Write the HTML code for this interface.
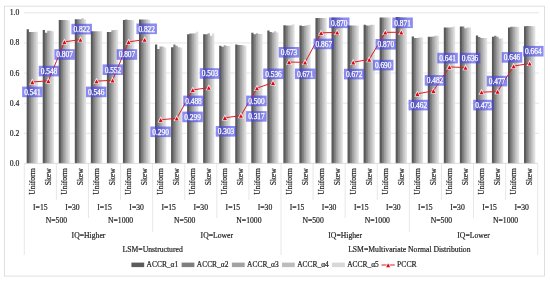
<!DOCTYPE html>
<html lang="en"><head><meta charset="utf-8"><title>ACCR and PCCR chart</title>
<style>html,body{margin:0;padding:0;background:#fff}body{width:550px;height:282px;overflow:hidden}svg{display:block}text{font-family:"Liberation Serif","DejaVu Serif",serif;font-size:7.68px;fill:#222}.dl{fill:#fff;font-size:7.35px;stroke:#fff;stroke-width:0.25px}.ax{fill:#222;stroke:#222;stroke-width:0.18px}</style></head><body>
<svg width="550" height="282" viewBox="0 0 550 282">
<rect x="0" y="0" width="550" height="282" fill="#fff"/>
<rect x="4.5" y="6.2" width="540" height="269.9" fill="#fff" stroke="#dcdcdc" stroke-width="0.9"/>
<line x1="23.9" y1="133.28" x2="539.0" y2="133.28" stroke="#e0e0e0" stroke-width="0.8"/>
<line x1="23.9" y1="103.16" x2="539.0" y2="103.16" stroke="#e0e0e0" stroke-width="0.8"/>
<line x1="23.9" y1="73.04" x2="539.0" y2="73.04" stroke="#e0e0e0" stroke-width="0.8"/>
<line x1="23.9" y1="42.92" x2="539.0" y2="42.92" stroke="#e0e0e0" stroke-width="0.8"/>
<line x1="23.9" y1="12.80" x2="539.0" y2="12.80" stroke="#e0e0e0" stroke-width="0.8"/>
<text class="ax" x="19.3" y="165.90" text-anchor="end">0.0</text>
<text class="ax" x="19.3" y="135.78" text-anchor="end">0.2</text>
<text class="ax" x="19.3" y="105.66" text-anchor="end">0.4</text>
<text class="ax" x="19.3" y="75.54" text-anchor="end">0.6</text>
<text class="ax" x="19.3" y="45.42" text-anchor="end">0.8</text>
<text class="ax" x="19.3" y="15.30" text-anchor="end">1.0</text>
<defs><linearGradient id="bg" x1="0" y1="0" x2="1" y2="0"><stop offset="0" stop-color="#535353"/><stop offset="0.17" stop-color="#616161"/><stop offset="0.23" stop-color="#7a7a7a"/><stop offset="0.37" stop-color="#888888"/><stop offset="0.43" stop-color="#9e9e9e"/><stop offset="0.57" stop-color="#ababab"/><stop offset="0.63" stop-color="#bcbcbc"/><stop offset="0.77" stop-color="#c9c9c9"/><stop offset="0.83" stop-color="#d6d6d6"/><stop offset="1" stop-color="#e5e5e5"/></linearGradient></defs>
<path d="M26.67 163.40 L26.67 29.37 L28.93 29.37 L28.93 31.93 L31.19 31.93 L31.19 31.93 L33.45 31.93 L33.45 31.93 L35.71 31.93 L35.71 31.78 L37.97 31.78 L37.97 163.40 Z" fill="url(#bg)"/>
<path d="M42.72 163.40 L42.72 29.97 L44.98 29.97 L44.98 32.68 L47.24 32.68 L47.24 30.87 L49.50 30.87 L49.50 30.87 L51.76 30.87 L51.76 31.17 L54.01 31.17 L54.01 163.40 Z" fill="url(#bg)"/>
<path d="M58.76 163.40 L58.76 19.88 L61.02 19.88 L61.02 19.88 L63.28 19.88 L63.28 19.88 L65.54 19.88 L65.54 20.03 L67.80 20.03 L67.80 20.48 L70.06 20.48 L70.06 163.40 Z" fill="url(#bg)"/>
<path d="M74.80 163.40 L74.80 19.28 L77.06 19.28 L77.06 19.28 L79.32 19.28 L79.32 19.13 L81.58 19.13 L81.58 18.37 L83.84 18.37 L83.84 19.58 L86.10 19.58 L86.10 163.40 Z" fill="url(#bg)"/>
<path d="M90.85 163.40 L90.85 31.32 L93.11 31.32 L93.11 31.32 L95.37 31.32 L95.37 31.32 L97.63 31.32 L97.63 31.17 L99.89 31.17 L99.89 31.17 L102.15 31.17 L102.15 163.40 Z" fill="url(#bg)"/>
<path d="M106.89 163.40 L106.89 31.93 L109.15 31.93 L109.15 31.93 L111.41 31.93 L111.41 30.27 L113.67 30.27 L113.67 29.97 L115.93 29.97 L115.93 29.67 L118.19 29.67 L118.19 163.40 Z" fill="url(#bg)"/>
<path d="M122.94 163.40 L122.94 19.88 L125.19 19.88 L125.19 19.43 L127.45 19.43 L127.45 19.88 L129.71 19.88 L129.71 19.88 L131.97 19.88 L131.97 20.18 L134.23 20.18 L134.23 163.40 Z" fill="url(#bg)"/>
<path d="M138.98 163.40 L138.98 19.43 L141.24 19.43 L141.24 19.43 L143.50 19.43 L143.50 19.43 L145.76 19.43 L145.76 19.43 L148.02 19.43 L148.02 19.73 L150.28 19.73 L150.28 163.40 Z" fill="url(#bg)"/>
<path d="M155.02 163.40 L155.02 44.58 L157.28 44.58 L157.28 48.94 L159.54 48.94 L159.54 46.53 L161.80 46.53 L161.80 46.53 L164.06 46.53 L164.06 47.44 L166.32 47.44 L166.32 163.40 Z" fill="url(#bg)"/>
<path d="M171.07 163.40 L171.07 47.14 L173.33 47.14 L173.33 44.58 L175.59 44.58 L175.59 45.63 L177.85 45.63 L177.85 47.29 L180.11 47.29 L180.11 47.44 L182.36 47.44 L182.36 163.40 Z" fill="url(#bg)"/>
<path d="M187.11 163.40 L187.11 34.34 L189.37 34.34 L189.37 33.43 L191.63 33.43 L191.63 33.43 L193.89 33.43 L193.89 33.28 L196.15 33.28 L196.15 31.78 L198.41 31.78 L198.41 163.40 Z" fill="url(#bg)"/>
<path d="M203.15 163.40 L203.15 34.34 L205.41 34.34 L205.41 34.34 L207.67 34.34 L207.67 33.13 L209.93 33.13 L209.93 35.69 L212.19 35.69 L212.19 33.58 L214.45 33.58 L214.45 163.40 Z" fill="url(#bg)"/>
<path d="M219.20 163.40 L219.20 45.63 L221.46 45.63 L221.46 46.69 L223.72 46.69 L223.72 45.18 L225.98 45.18 L225.98 46.08 L228.24 46.08 L228.24 46.08 L230.50 46.08 L230.50 163.40 Z" fill="url(#bg)"/>
<path d="M235.24 163.40 L235.24 44.43 L237.50 44.43 L237.50 44.88 L239.76 44.88 L239.76 45.03 L242.02 45.03 L242.02 45.33 L244.28 45.33 L244.28 45.63 L246.54 45.63 L246.54 163.40 Z" fill="url(#bg)"/>
<path d="M251.29 163.40 L251.29 32.68 L253.54 32.68 L253.54 34.19 L255.80 34.19 L255.80 33.13 L258.06 33.13 L258.06 34.03 L260.32 34.03 L260.32 34.03 L262.58 34.03 L262.58 163.40 Z" fill="url(#bg)"/>
<path d="M267.33 163.40 L267.33 30.57 L269.59 30.57 L269.59 32.08 L271.85 32.08 L271.85 32.38 L274.11 32.38 L274.11 31.17 L276.37 31.17 L276.37 32.38 L278.63 32.38 L278.63 163.40 Z" fill="url(#bg)"/>
<path d="M283.37 163.40 L283.37 25.30 L285.63 25.30 L285.63 25.60 L287.89 25.60 L287.89 25.60 L290.15 25.60 L290.15 25.15 L292.41 25.15 L292.41 24.25 L294.67 24.25 L294.67 163.40 Z" fill="url(#bg)"/>
<path d="M299.42 163.40 L299.42 25.60 L301.68 25.60 L301.68 25.90 L303.94 25.90 L303.94 25.75 L306.20 25.75 L306.20 25.15 L308.46 25.15 L308.46 24.70 L310.71 24.70 L310.71 163.40 Z" fill="url(#bg)"/>
<path d="M315.46 163.40 L315.46 17.92 L317.72 17.92 L317.72 17.92 L319.98 17.92 L319.98 17.92 L322.24 17.92 L322.24 17.92 L324.50 17.92 L324.50 18.07 L326.76 18.07 L326.76 163.40 Z" fill="url(#bg)"/>
<path d="M331.50 163.40 L331.50 17.62 L333.76 17.62 L333.76 17.62 L336.02 17.62 L336.02 17.62 L338.28 17.62 L338.28 17.62 L340.54 17.62 L340.54 17.77 L342.80 17.77 L342.80 163.40 Z" fill="url(#bg)"/>
<path d="M347.55 163.40 L347.55 25.60 L349.81 25.60 L349.81 25.60 L352.07 25.60 L352.07 25.60 L354.33 25.60 L354.33 25.60 L356.59 25.60 L356.59 25.75 L358.85 25.75 L358.85 163.40 Z" fill="url(#bg)"/>
<path d="M363.59 163.40 L363.59 24.70 L365.85 24.70 L365.85 25.60 L368.11 25.60 L368.11 25.60 L370.37 25.60 L370.37 24.70 L372.63 24.70 L372.63 24.70 L374.89 24.70 L374.89 163.40 Z" fill="url(#bg)"/>
<path d="M379.64 163.40 L379.64 17.47 L381.89 17.47 L381.89 17.47 L384.15 17.47 L384.15 17.47 L386.41 17.47 L386.41 17.47 L388.67 17.47 L388.67 17.62 L390.93 17.62 L390.93 163.40 Z" fill="url(#bg)"/>
<path d="M395.68 163.40 L395.68 17.02 L397.94 17.02 L397.94 17.02 L400.20 17.02 L400.20 17.17 L402.46 17.17 L402.46 17.17 L404.72 17.17 L404.72 17.32 L406.98 17.32 L406.98 163.40 Z" fill="url(#bg)"/>
<path d="M411.72 163.40 L411.72 36.44 L413.98 36.44 L413.98 37.95 L416.24 37.95 L416.24 37.95 L418.50 37.95 L418.50 37.50 L420.76 37.50 L420.76 37.50 L423.02 37.50 L423.02 163.40 Z" fill="url(#bg)"/>
<path d="M427.77 163.40 L427.77 36.75 L430.03 36.75 L430.03 36.75 L432.29 36.75 L432.29 36.44 L434.55 36.44 L434.55 35.84 L436.81 35.84 L436.81 35.84 L439.06 35.84 L439.06 163.40 Z" fill="url(#bg)"/>
<path d="M443.81 163.40 L443.81 27.56 L446.07 27.56 L446.07 27.56 L448.33 27.56 L448.33 27.56 L450.59 27.56 L450.59 27.26 L452.85 27.26 L452.85 26.50 L455.11 26.50 L455.11 163.40 Z" fill="url(#bg)"/>
<path d="M459.85 163.40 L459.85 26.50 L462.11 26.50 L462.11 26.50 L464.37 26.50 L464.37 28.16 L466.63 28.16 L466.63 27.56 L468.89 27.56 L468.89 27.56 L471.15 27.56 L471.15 163.40 Z" fill="url(#bg)"/>
<path d="M475.90 163.40 L475.90 35.39 L478.16 35.39 L478.16 37.05 L480.42 37.05 L480.42 37.95 L482.68 37.95 L482.68 37.95 L484.94 37.95 L484.94 37.95 L487.20 37.95 L487.20 163.40 Z" fill="url(#bg)"/>
<path d="M491.94 163.40 L491.94 36.75 L494.20 36.75 L494.20 35.84 L496.46 35.84 L496.46 36.75 L498.72 36.75 L498.72 38.40 L500.98 38.40 L500.98 38.40 L503.24 38.40 L503.24 163.40 Z" fill="url(#bg)"/>
<path d="M507.99 163.40 L507.99 27.56 L510.24 27.56 L510.24 26.81 L512.50 26.81 L512.50 26.81 L514.76 26.81 L514.76 26.81 L517.02 26.81 L517.02 26.96 L519.28 26.96 L519.28 163.40 Z" fill="url(#bg)"/>
<path d="M524.03 163.40 L524.03 26.20 L526.29 26.20 L526.29 26.05 L528.55 26.05 L528.55 25.90 L530.81 25.90 L530.81 26.20 L533.07 26.20 L533.07 26.35 L535.33 26.35 L535.33 163.40 Z" fill="url(#bg)"/>
<line x1="24.3" y1="163.40" x2="537.7" y2="163.40" stroke="#d4d4d4" stroke-width="0.8"/>
<line x1="24.30" y1="163.40" x2="24.30" y2="255.00" stroke="#dddddd" stroke-width="0.7"/>
<line x1="56.39" y1="163.40" x2="56.39" y2="200.00" stroke="#dddddd" stroke-width="0.7"/>
<line x1="88.48" y1="163.40" x2="88.48" y2="218.00" stroke="#dddddd" stroke-width="0.7"/>
<line x1="120.56" y1="163.40" x2="120.56" y2="200.00" stroke="#dddddd" stroke-width="0.7"/>
<line x1="152.65" y1="163.40" x2="152.65" y2="232.00" stroke="#dddddd" stroke-width="0.7"/>
<line x1="184.74" y1="163.40" x2="184.74" y2="200.00" stroke="#dddddd" stroke-width="0.7"/>
<line x1="216.83" y1="163.40" x2="216.83" y2="218.00" stroke="#dddddd" stroke-width="0.7"/>
<line x1="248.91" y1="163.40" x2="248.91" y2="200.00" stroke="#dddddd" stroke-width="0.7"/>
<line x1="281.00" y1="163.40" x2="281.00" y2="255.00" stroke="#dddddd" stroke-width="0.7"/>
<line x1="313.09" y1="163.40" x2="313.09" y2="200.00" stroke="#dddddd" stroke-width="0.7"/>
<line x1="345.18" y1="163.40" x2="345.18" y2="218.00" stroke="#dddddd" stroke-width="0.7"/>
<line x1="377.26" y1="163.40" x2="377.26" y2="200.00" stroke="#dddddd" stroke-width="0.7"/>
<line x1="409.35" y1="163.40" x2="409.35" y2="232.00" stroke="#dddddd" stroke-width="0.7"/>
<line x1="441.44" y1="163.40" x2="441.44" y2="200.00" stroke="#dddddd" stroke-width="0.7"/>
<line x1="473.53" y1="163.40" x2="473.53" y2="218.00" stroke="#dddddd" stroke-width="0.7"/>
<line x1="505.61" y1="163.40" x2="505.61" y2="200.00" stroke="#dddddd" stroke-width="0.7"/>
<line x1="537.70" y1="163.40" x2="537.70" y2="255.00" stroke="#dddddd" stroke-width="0.7"/>
<text class="ax" transform="translate(34.92,168.3) rotate(-90)" text-anchor="end">Uniform</text>
<text class="ax" transform="translate(50.97,168.3) rotate(-90)" text-anchor="end">Skew</text>
<text class="ax" transform="translate(67.01,168.3) rotate(-90)" text-anchor="end">Uniform</text>
<text class="ax" transform="translate(83.05,168.3) rotate(-90)" text-anchor="end">Skew</text>
<text class="ax" transform="translate(99.10,168.3) rotate(-90)" text-anchor="end">Uniform</text>
<text class="ax" transform="translate(115.14,168.3) rotate(-90)" text-anchor="end">Skew</text>
<text class="ax" transform="translate(131.18,168.3) rotate(-90)" text-anchor="end">Uniform</text>
<text class="ax" transform="translate(147.23,168.3) rotate(-90)" text-anchor="end">Skew</text>
<text class="ax" transform="translate(163.27,168.3) rotate(-90)" text-anchor="end">Uniform</text>
<text class="ax" transform="translate(179.32,168.3) rotate(-90)" text-anchor="end">Skew</text>
<text class="ax" transform="translate(195.36,168.3) rotate(-90)" text-anchor="end">Uniform</text>
<text class="ax" transform="translate(211.40,168.3) rotate(-90)" text-anchor="end">Skew</text>
<text class="ax" transform="translate(227.45,168.3) rotate(-90)" text-anchor="end">Uniform</text>
<text class="ax" transform="translate(243.49,168.3) rotate(-90)" text-anchor="end">Skew</text>
<text class="ax" transform="translate(259.53,168.3) rotate(-90)" text-anchor="end">Uniform</text>
<text class="ax" transform="translate(275.58,168.3) rotate(-90)" text-anchor="end">Skew</text>
<text class="ax" transform="translate(291.62,168.3) rotate(-90)" text-anchor="end">Uniform</text>
<text class="ax" transform="translate(307.67,168.3) rotate(-90)" text-anchor="end">Skew</text>
<text class="ax" transform="translate(323.71,168.3) rotate(-90)" text-anchor="end">Uniform</text>
<text class="ax" transform="translate(339.75,168.3) rotate(-90)" text-anchor="end">Skew</text>
<text class="ax" transform="translate(355.80,168.3) rotate(-90)" text-anchor="end">Uniform</text>
<text class="ax" transform="translate(371.84,168.3) rotate(-90)" text-anchor="end">Skew</text>
<text class="ax" transform="translate(387.88,168.3) rotate(-90)" text-anchor="end">Uniform</text>
<text class="ax" transform="translate(403.93,168.3) rotate(-90)" text-anchor="end">Skew</text>
<text class="ax" transform="translate(419.97,168.3) rotate(-90)" text-anchor="end">Uniform</text>
<text class="ax" transform="translate(436.02,168.3) rotate(-90)" text-anchor="end">Skew</text>
<text class="ax" transform="translate(452.06,168.3) rotate(-90)" text-anchor="end">Uniform</text>
<text class="ax" transform="translate(468.10,168.3) rotate(-90)" text-anchor="end">Skew</text>
<text class="ax" transform="translate(484.15,168.3) rotate(-90)" text-anchor="end">Uniform</text>
<text class="ax" transform="translate(500.19,168.3) rotate(-90)" text-anchor="end">Skew</text>
<text class="ax" transform="translate(516.23,168.3) rotate(-90)" text-anchor="end">Uniform</text>
<text class="ax" transform="translate(532.28,168.3) rotate(-90)" text-anchor="end">Skew</text>
<text class="ax" x="40.34" y="209.5" text-anchor="middle">I=15</text>
<text class="ax" x="72.43" y="209.5" text-anchor="middle">I=30</text>
<text class="ax" x="104.52" y="209.5" text-anchor="middle">I=15</text>
<text class="ax" x="136.61" y="209.5" text-anchor="middle">I=30</text>
<text class="ax" x="168.69" y="209.5" text-anchor="middle">I=15</text>
<text class="ax" x="200.78" y="209.5" text-anchor="middle">I=30</text>
<text class="ax" x="232.87" y="209.5" text-anchor="middle">I=15</text>
<text class="ax" x="264.96" y="209.5" text-anchor="middle">I=30</text>
<text class="ax" x="297.04" y="209.5" text-anchor="middle">I=15</text>
<text class="ax" x="329.13" y="209.5" text-anchor="middle">I=30</text>
<text class="ax" x="361.22" y="209.5" text-anchor="middle">I=15</text>
<text class="ax" x="393.31" y="209.5" text-anchor="middle">I=30</text>
<text class="ax" x="425.39" y="209.5" text-anchor="middle">I=15</text>
<text class="ax" x="457.48" y="209.5" text-anchor="middle">I=30</text>
<text class="ax" x="489.57" y="209.5" text-anchor="middle">I=15</text>
<text class="ax" x="521.66" y="209.5" text-anchor="middle">I=30</text>
<text class="ax" x="56.39" y="223.4" text-anchor="middle">N=500</text>
<text class="ax" x="120.56" y="223.4" text-anchor="middle">N=1000</text>
<text class="ax" x="184.74" y="223.4" text-anchor="middle">N=500</text>
<text class="ax" x="248.91" y="223.4" text-anchor="middle">N=1000</text>
<text class="ax" x="313.09" y="223.4" text-anchor="middle">N=500</text>
<text class="ax" x="377.26" y="223.4" text-anchor="middle">N=1000</text>
<text class="ax" x="441.44" y="223.4" text-anchor="middle">N=500</text>
<text class="ax" x="505.61" y="223.4" text-anchor="middle">N=1000</text>
<text class="ax" x="88.48" y="237.6" text-anchor="middle">IQ=Higher</text>
<text class="ax" x="216.83" y="237.6" text-anchor="middle">IQ=Lower</text>
<text class="ax" x="345.18" y="237.6" text-anchor="middle">IQ=Higher</text>
<text class="ax" x="473.53" y="237.6" text-anchor="middle">IQ=Lower</text>
<text class="ax" x="152.65" y="251.6" text-anchor="middle">LSM=Unstructured</text>
<text class="ax" x="409.35" y="251.6" text-anchor="middle">LSM=Multivariate Normal Distribution</text>
<polyline points="32.32,81.93 48.37,80.87 64.41,41.87 80.45,39.61" fill="none" stroke="#e31a22" stroke-width="1"/>
<polyline points="96.50,81.17 112.54,80.27 128.58,41.87 144.63,39.61" fill="none" stroke="#e31a22" stroke-width="1"/>
<polyline points="160.67,119.73 176.72,118.37 192.76,89.91 208.80,87.65" fill="none" stroke="#e31a22" stroke-width="1"/>
<polyline points="224.85,117.77 240.89,115.66 256.93,88.10 272.98,82.68" fill="none" stroke="#e31a22" stroke-width="1"/>
<polyline points="289.02,62.05 305.07,62.35 321.11,32.83 337.15,32.38" fill="none" stroke="#e31a22" stroke-width="1"/>
<polyline points="353.20,62.20 369.24,59.49 385.28,32.38 401.33,32.23" fill="none" stroke="#e31a22" stroke-width="1"/>
<polyline points="417.37,93.82 433.42,90.81 449.46,66.87 465.50,67.62" fill="none" stroke="#e31a22" stroke-width="1"/>
<polyline points="481.55,92.17 497.59,91.56 513.63,66.11 529.68,63.40" fill="none" stroke="#e31a22" stroke-width="1"/>
<rect x="22.15" y="86.60" width="20.5" height="10.6" fill="#4646e6" fill-opacity="0.62"/>
<rect x="38.75" y="65.80" width="20.5" height="10.6" fill="#4646e6" fill-opacity="0.62"/>
<rect x="54.35" y="49.20" width="20.5" height="10.6" fill="#4646e6" fill-opacity="0.62"/>
<rect x="71.45" y="23.80" width="20.5" height="10.6" fill="#4646e6" fill-opacity="0.62"/>
<rect x="85.95" y="86.60" width="20.5" height="10.6" fill="#4646e6" fill-opacity="0.62"/>
<rect x="102.65" y="64.40" width="20.5" height="10.6" fill="#4646e6" fill-opacity="0.62"/>
<rect x="116.65" y="49.20" width="20.5" height="10.6" fill="#4646e6" fill-opacity="0.62"/>
<rect x="136.45" y="23.50" width="20.5" height="10.6" fill="#4646e6" fill-opacity="0.62"/>
<rect x="150.35" y="126.50" width="20.5" height="10.6" fill="#4646e6" fill-opacity="0.62"/>
<rect x="182.35" y="111.60" width="20.5" height="10.6" fill="#4646e6" fill-opacity="0.62"/>
<rect x="183.25" y="95.60" width="20.5" height="10.6" fill="#4646e6" fill-opacity="0.62"/>
<rect x="199.75" y="68.20" width="20.5" height="10.6" fill="#4646e6" fill-opacity="0.62"/>
<rect x="215.75" y="126.00" width="20.5" height="10.6" fill="#4646e6" fill-opacity="0.62"/>
<rect x="246.15" y="111.10" width="20.5" height="10.6" fill="#4646e6" fill-opacity="0.62"/>
<rect x="246.15" y="95.60" width="20.5" height="10.6" fill="#4646e6" fill-opacity="0.62"/>
<rect x="263.25" y="68.50" width="20.5" height="10.6" fill="#4646e6" fill-opacity="0.62"/>
<rect x="278.75" y="47.00" width="20.5" height="10.6" fill="#4646e6" fill-opacity="0.62"/>
<rect x="294.95" y="68.50" width="20.5" height="10.6" fill="#4646e6" fill-opacity="0.62"/>
<rect x="313.55" y="38.60" width="20.5" height="10.6" fill="#4646e6" fill-opacity="0.62"/>
<rect x="328.95" y="17.50" width="20.5" height="10.6" fill="#4646e6" fill-opacity="0.62"/>
<rect x="343.95" y="68.80" width="20.5" height="10.6" fill="#4646e6" fill-opacity="0.62"/>
<rect x="372.95" y="59.80" width="20.5" height="10.6" fill="#4646e6" fill-opacity="0.62"/>
<rect x="375.55" y="39.00" width="20.5" height="10.6" fill="#4646e6" fill-opacity="0.62"/>
<rect x="392.35" y="17.50" width="20.5" height="10.6" fill="#4646e6" fill-opacity="0.62"/>
<rect x="408.55" y="99.80" width="20.5" height="10.6" fill="#4646e6" fill-opacity="0.62"/>
<rect x="424.75" y="75.10" width="20.5" height="10.6" fill="#4646e6" fill-opacity="0.62"/>
<rect x="437.35" y="52.80" width="20.5" height="10.6" fill="#4646e6" fill-opacity="0.62"/>
<rect x="459.75" y="52.80" width="20.5" height="10.6" fill="#4646e6" fill-opacity="0.62"/>
<rect x="473.15" y="99.80" width="20.5" height="10.6" fill="#4646e6" fill-opacity="0.62"/>
<rect x="486.75" y="75.80" width="20.5" height="10.6" fill="#4646e6" fill-opacity="0.62"/>
<rect x="501.75" y="52.10" width="20.5" height="10.6" fill="#4646e6" fill-opacity="0.62"/>
<rect x="523.05" y="45.90" width="20.5" height="10.6" fill="#4646e6" fill-opacity="0.62"/>
<text class="dl" x="32.40" y="94.80" text-anchor="middle">0.541</text>
<text class="dl" x="49.00" y="74.00" text-anchor="middle">0.548</text>
<text class="dl" x="64.60" y="57.40" text-anchor="middle">0.807</text>
<text class="dl" x="81.70" y="32.00" text-anchor="middle">0.822</text>
<text class="dl" x="96.20" y="94.80" text-anchor="middle">0.546</text>
<text class="dl" x="112.90" y="72.60" text-anchor="middle">0.552</text>
<text class="dl" x="126.90" y="57.40" text-anchor="middle">0.807</text>
<text class="dl" x="146.70" y="31.70" text-anchor="middle">0.822</text>
<text class="dl" x="160.60" y="134.70" text-anchor="middle">0.290</text>
<text class="dl" x="192.60" y="119.80" text-anchor="middle">0.299</text>
<text class="dl" x="193.50" y="103.80" text-anchor="middle">0.488</text>
<text class="dl" x="210.00" y="76.40" text-anchor="middle">0.503</text>
<text class="dl" x="226.00" y="134.20" text-anchor="middle">0.303</text>
<text class="dl" x="256.40" y="119.30" text-anchor="middle">0.317</text>
<text class="dl" x="256.40" y="103.80" text-anchor="middle">0.500</text>
<text class="dl" x="273.50" y="76.70" text-anchor="middle">0.536</text>
<text class="dl" x="289.00" y="55.20" text-anchor="middle">0.673</text>
<text class="dl" x="305.20" y="76.70" text-anchor="middle">0.671</text>
<text class="dl" x="323.80" y="46.80" text-anchor="middle">0.867</text>
<text class="dl" x="339.20" y="25.70" text-anchor="middle">0.870</text>
<text class="dl" x="354.20" y="77.00" text-anchor="middle">0.672</text>
<text class="dl" x="383.20" y="68.00" text-anchor="middle">0.690</text>
<text class="dl" x="385.80" y="47.20" text-anchor="middle">0.870</text>
<text class="dl" x="402.60" y="25.70" text-anchor="middle">0.871</text>
<text class="dl" x="418.80" y="108.00" text-anchor="middle">0.462</text>
<text class="dl" x="435.00" y="83.30" text-anchor="middle">0.482</text>
<text class="dl" x="447.60" y="61.00" text-anchor="middle">0.641</text>
<text class="dl" x="470.00" y="61.00" text-anchor="middle">0.636</text>
<text class="dl" x="483.40" y="108.00" text-anchor="middle">0.473</text>
<text class="dl" x="497.00" y="84.00" text-anchor="middle">0.477</text>
<text class="dl" x="512.00" y="60.30" text-anchor="middle">0.646</text>
<text class="dl" x="533.30" y="54.10" text-anchor="middle">0.664</text>
<path d="M32.32 78.53 l3.1 6.1 h-6.2 z" fill="#fff" fill-opacity="0.85"/><path d="M32.32 80.23 l2 3.9 h-4 z" fill="#e30613"/>
<path d="M48.37 77.47 l3.1 6.1 h-6.2 z" fill="#fff" fill-opacity="0.85"/><path d="M48.37 79.17 l2 3.9 h-4 z" fill="#e30613"/>
<path d="M64.41 38.47 l3.1 6.1 h-6.2 z" fill="#fff" fill-opacity="0.85"/><path d="M64.41 40.17 l2 3.9 h-4 z" fill="#e30613"/>
<path d="M80.45 36.21 l3.1 6.1 h-6.2 z" fill="#fff" fill-opacity="0.85"/><path d="M80.45 37.91 l2 3.9 h-4 z" fill="#e30613"/>
<path d="M96.50 77.77 l3.1 6.1 h-6.2 z" fill="#fff" fill-opacity="0.85"/><path d="M96.50 79.47 l2 3.9 h-4 z" fill="#e30613"/>
<path d="M112.54 76.87 l3.1 6.1 h-6.2 z" fill="#fff" fill-opacity="0.85"/><path d="M112.54 78.57 l2 3.9 h-4 z" fill="#e30613"/>
<path d="M128.58 38.47 l3.1 6.1 h-6.2 z" fill="#fff" fill-opacity="0.85"/><path d="M128.58 40.17 l2 3.9 h-4 z" fill="#e30613"/>
<path d="M144.63 36.21 l3.1 6.1 h-6.2 z" fill="#fff" fill-opacity="0.85"/><path d="M144.63 37.91 l2 3.9 h-4 z" fill="#e30613"/>
<path d="M160.67 116.33 l3.1 6.1 h-6.2 z" fill="#fff" fill-opacity="0.85"/><path d="M160.67 118.03 l2 3.9 h-4 z" fill="#e30613"/>
<path d="M176.72 114.97 l3.1 6.1 h-6.2 z" fill="#fff" fill-opacity="0.85"/><path d="M176.72 116.67 l2 3.9 h-4 z" fill="#e30613"/>
<path d="M192.76 86.51 l3.1 6.1 h-6.2 z" fill="#fff" fill-opacity="0.85"/><path d="M192.76 88.21 l2 3.9 h-4 z" fill="#e30613"/>
<path d="M208.80 84.25 l3.1 6.1 h-6.2 z" fill="#fff" fill-opacity="0.85"/><path d="M208.80 85.95 l2 3.9 h-4 z" fill="#e30613"/>
<path d="M224.85 114.37 l3.1 6.1 h-6.2 z" fill="#fff" fill-opacity="0.85"/><path d="M224.85 116.07 l2 3.9 h-4 z" fill="#e30613"/>
<path d="M240.89 112.26 l3.1 6.1 h-6.2 z" fill="#fff" fill-opacity="0.85"/><path d="M240.89 113.96 l2 3.9 h-4 z" fill="#e30613"/>
<path d="M256.93 84.70 l3.1 6.1 h-6.2 z" fill="#fff" fill-opacity="0.85"/><path d="M256.93 86.40 l2 3.9 h-4 z" fill="#e30613"/>
<path d="M272.98 79.28 l3.1 6.1 h-6.2 z" fill="#fff" fill-opacity="0.85"/><path d="M272.98 80.98 l2 3.9 h-4 z" fill="#e30613"/>
<path d="M289.02 58.65 l3.1 6.1 h-6.2 z" fill="#fff" fill-opacity="0.85"/><path d="M289.02 60.35 l2 3.9 h-4 z" fill="#e30613"/>
<path d="M305.07 58.95 l3.1 6.1 h-6.2 z" fill="#fff" fill-opacity="0.85"/><path d="M305.07 60.65 l2 3.9 h-4 z" fill="#e30613"/>
<path d="M321.11 29.43 l3.1 6.1 h-6.2 z" fill="#fff" fill-opacity="0.85"/><path d="M321.11 31.13 l2 3.9 h-4 z" fill="#e30613"/>
<path d="M337.15 28.98 l3.1 6.1 h-6.2 z" fill="#fff" fill-opacity="0.85"/><path d="M337.15 30.68 l2 3.9 h-4 z" fill="#e30613"/>
<path d="M353.20 58.80 l3.1 6.1 h-6.2 z" fill="#fff" fill-opacity="0.85"/><path d="M353.20 60.50 l2 3.9 h-4 z" fill="#e30613"/>
<path d="M369.24 56.09 l3.1 6.1 h-6.2 z" fill="#fff" fill-opacity="0.85"/><path d="M369.24 57.79 l2 3.9 h-4 z" fill="#e30613"/>
<path d="M385.28 28.98 l3.1 6.1 h-6.2 z" fill="#fff" fill-opacity="0.85"/><path d="M385.28 30.68 l2 3.9 h-4 z" fill="#e30613"/>
<path d="M401.33 28.83 l3.1 6.1 h-6.2 z" fill="#fff" fill-opacity="0.85"/><path d="M401.33 30.53 l2 3.9 h-4 z" fill="#e30613"/>
<path d="M417.37 90.42 l3.1 6.1 h-6.2 z" fill="#fff" fill-opacity="0.85"/><path d="M417.37 92.12 l2 3.9 h-4 z" fill="#e30613"/>
<path d="M433.42 87.41 l3.1 6.1 h-6.2 z" fill="#fff" fill-opacity="0.85"/><path d="M433.42 89.11 l2 3.9 h-4 z" fill="#e30613"/>
<path d="M449.46 63.47 l3.1 6.1 h-6.2 z" fill="#fff" fill-opacity="0.85"/><path d="M449.46 65.17 l2 3.9 h-4 z" fill="#e30613"/>
<path d="M465.50 64.22 l3.1 6.1 h-6.2 z" fill="#fff" fill-opacity="0.85"/><path d="M465.50 65.92 l2 3.9 h-4 z" fill="#e30613"/>
<path d="M481.55 88.77 l3.1 6.1 h-6.2 z" fill="#fff" fill-opacity="0.85"/><path d="M481.55 90.47 l2 3.9 h-4 z" fill="#e30613"/>
<path d="M497.59 88.16 l3.1 6.1 h-6.2 z" fill="#fff" fill-opacity="0.85"/><path d="M497.59 89.86 l2 3.9 h-4 z" fill="#e30613"/>
<path d="M513.63 62.71 l3.1 6.1 h-6.2 z" fill="#fff" fill-opacity="0.85"/><path d="M513.63 64.41 l2 3.9 h-4 z" fill="#e30613"/>
<path d="M529.68 60.00 l3.1 6.1 h-6.2 z" fill="#fff" fill-opacity="0.85"/><path d="M529.68 61.70 l2 3.9 h-4 z" fill="#e30613"/>
<rect x="131.4" y="262.6" width="12.8" height="4.5" fill="#5b5b5b"/>
<text class="ax" style="font-size:7.45px" x="146.6" y="267.2">ACCR_α1</text>
<rect x="181.6" y="262.6" width="12.8" height="4.5" fill="#7f7f7f"/>
<text class="ax" style="font-size:7.45px" x="196.8" y="267.2">ACCR_α2</text>
<rect x="231.9" y="262.6" width="12.8" height="4.5" fill="#a3a3a3"/>
<text class="ax" style="font-size:7.45px" x="247.1" y="267.2">ACCR_α3</text>
<rect x="282.0" y="262.6" width="12.8" height="4.5" fill="#bdbdbd"/>
<text class="ax" style="font-size:7.45px" x="297.2" y="267.2">ACCR_α4</text>
<rect x="332.0" y="262.6" width="12.8" height="4.5" fill="#d8d8d8"/>
<text class="ax" style="font-size:7.45px" x="347.2" y="267.2">ACCR_α5</text>
<line x1="381.5" y1="265" x2="394.8" y2="265" stroke="#e31a22" stroke-width="1"/>
<path d="M388.1 261.6 l3.1 6.1 h-6.2 z" fill="#fff" fill-opacity="0.9"/><path d="M388.1 263.3 l2 3.9 h-4 z" fill="#e30613"/>
<text class="ax" x="397" y="267.2">PCCR</text>
</svg></body></html>
